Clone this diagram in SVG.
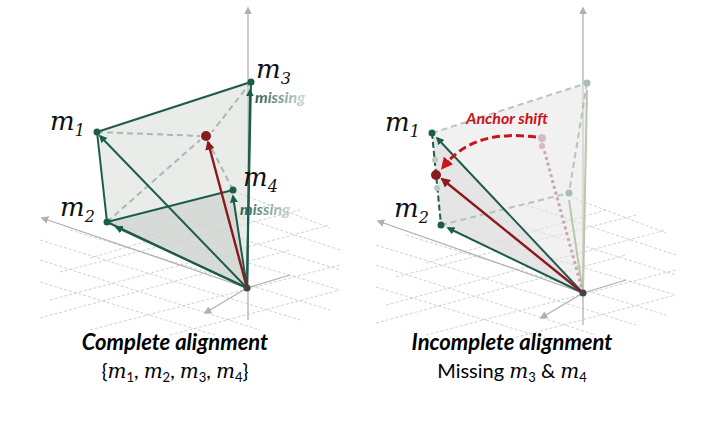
<svg xmlns="http://www.w3.org/2000/svg" width="717" height="433" viewBox="0 0 717 433">
<defs>
<style>
.grid{stroke:#c4c4c4;stroke-width:0.8;stroke-dasharray:3 2;fill:none}
.ax{stroke:#b0b0b0;stroke-width:1.3;fill:none}
.e{stroke:#1d5c4d;stroke-width:2;fill:none}
.dash{stroke:#a8b8b2;stroke-width:2;stroke-dasharray:6 4;fill:none}
.red{stroke:#8b1a1f;stroke-width:2.4;fill:none}
.m{font-family:"DejaVu Serif",serif;font-style:italic;font-size:26px;fill:#111}
.sub{font-size:16px}
.miss{font-family:Lato,"Open Sans",sans-serif;font-weight:bold;font-style:italic;font-size:16px}
.cap{font-family:Lato,"Open Sans",sans-serif;font-weight:bold;font-style:italic;font-size:22px;fill:#000;text-anchor:middle}
.cap2{font-family:Lato,"Open Sans",sans-serif;font-size:20px;fill:#000;text-anchor:middle}
</style>
<marker id="ah" viewBox="0 0 10 10" refX="8" refY="5" markerWidth="4" markerHeight="4" orient="auto"><path d="M0,0L10,5L0,10z" fill="#1d5c4d"/></marker>
<marker id="ar" viewBox="0 0 10 10" refX="8" refY="5" markerWidth="4" markerHeight="4" orient="auto"><path d="M0,0L10,5L0,10z" fill="#8b1a1f"/></marker>
<marker id="aa" viewBox="0 0 10 10" refX="8" refY="5" markerWidth="6" markerHeight="6" orient="auto"><path d="M0,0L10,5L0,10z" fill="#b0b0b0"/></marker>
<marker id="ab" viewBox="0 0 10 10" refX="6" refY="5" markerWidth="4" markerHeight="4" orient="auto"><path d="M0,0L10,5L0,10z" fill="#c8141c"/></marker>
<linearGradient id="fade" x1="0" x2="1"><stop offset="0" stop-color="#1d5c4d"/><stop offset="1" stop-color="#1d5c4d" stop-opacity="0.2"/></linearGradient>
</defs>

<g id="left-grid">
<path class="grid" d="M40,240 L300,320 M40,260 L260,330 M40,282 L215,335 M70,230 L330,310 M110,222 L340,290 M150,210 L340,270 M190,200 L340,250 M230,190 L330,228 M50,300 L330,225 M40,318 L290,250 M90,330 L340,265 M170,335 L340,290 M60,272 L300,210 M90,258 L270,205"/>
<path class="ax" d="M248,320 L248,8" marker-end="url(#aa)"/>
<path class="ax" d="M247,288 L42,218" marker-end="url(#aa)"/>
<path class="ax" d="M247,288 L205,313" marker-end="url(#aa)"/>
<path class="ax" d="M247,288 L290,275"/>
</g>
<g id="left-faces">
<polygon points="97,132 251,82 247,288 107,222" fill="#d8ddd9" fill-opacity="0.55"/>
<polygon points="107,222 233,190 247,288" fill="#c9d0cb" fill-opacity="0.6"/>
</g>
<g id="left-connectors">
<path class="dash" d="M97,132 L200,136 M107,222 L200,140 M251,82 L212,132 M233,190 L210,145"/>
<path class="e" d="M97,132 L251,82 L247,288 M97,132 L107,222 L233,190 M107,222 L247,288"/>
<path class="e" d="M247,288 L100,136" marker-end="url(#ah)"/>
<path class="e" d="M247,288 L116,227" marker-end="url(#ah)"/>
<path class="e" d="M247,288 L250,90" marker-end="url(#ah)"/>
<path class="e" d="M247,288 L233,196" marker-end="url(#ah)"/>
<path class="red" d="M247,288 L208,142" marker-end="url(#ar)"/>
</g>
<g id="left-nodes" fill="#1d5c4d">
<circle cx="97" cy="132" r="3.5"/><circle cx="107" cy="222" r="3.5"/><circle cx="251" cy="82" r="3.5"/><circle cx="233" cy="190" r="3.5"/>
<circle cx="247" cy="288" r="3.5" fill="#444"/>
<circle cx="206" cy="136" r="5" fill="#8b1a1f"/>
</g>
<g id="left-labels">
<text class="m" x="50" y="130">m<tspan class="sub" dy="6">1</tspan></text>
<text class="m" x="60" y="216">m<tspan class="sub" dy="6">2</tspan></text>
<text class="m" x="256" y="78">m<tspan class="sub" dy="6">3</tspan></text>
<text class="m" x="243" y="186">m<tspan class="sub" dy="6">4</tspan></text>
<text class="miss" x="255" y="103" fill="url(#fade)">missing</text>
<text class="miss" x="240" y="215" fill="url(#fade)">missing</text>
<text class="cap" x="175" y="350">Complete alignment</text>
<text class="cap2" x="175" y="378">{<tspan font-family="DejaVu Serif" font-style="italic">m</tspan><tspan font-size="13" dy="4">1</tspan><tspan dy="-4">, </tspan><tspan font-family="DejaVu Serif" font-style="italic">m</tspan><tspan font-size="13" dy="4">2</tspan><tspan dy="-4">, </tspan><tspan font-family="DejaVu Serif" font-style="italic">m</tspan><tspan font-size="13" dy="4">3</tspan><tspan dy="-4">, </tspan><tspan font-family="DejaVu Serif" font-style="italic">m</tspan><tspan font-size="13" dy="4">4</tspan><tspan dy="-4">}</tspan></text>
</g>

<g id="right-grid">
<path class="grid" d="M376,245 L636,325 M376,265 L596,335 M376,287 L551,340 M406,235 L666,315 M446,227 L676,295 M486,215 L676,275 M526,205 L676,255 M566,195 L666,233 M386,305 L666,230 M376,323 L626,255 M426,335 L676,270 M506,340 L676,295 M396,277 L636,215 M426,263 L606,210"/>
<path class="ax" d="M583,325 L583,8" marker-end="url(#aa)"/>
<path class="ax" d="M583,293 L378,221" marker-end="url(#aa)"/>
<path class="ax" d="M583,293 L541,318" marker-end="url(#aa)"/>
<path class="ax" d="M583,293 L626,280"/>
</g>
<g id="right-faces">
<polygon points="432,133 587,83 583,293 441,225" fill="#e6e6e6" fill-opacity="0.55"/>
<polygon points="432,133 441,225 583,293" fill="#dcdedc" fill-opacity="0.6"/>
</g>
<g id="right-connectors">
<path class="dash" d="M432,133 L587,83 M441,225 L569,193 M587,83 L569,193" opacity="0.8"/>
<path d="M583,293 L587,90 M583,293 L569,200" stroke="#b8c8a8" stroke-width="2" fill="none"/>
<path d="M583,293 L542,142" stroke="#c8a8ac" stroke-width="3" stroke-dasharray="3 3" fill="none"/>
<path class="e" d="M432,133 L441,225" stroke-dasharray="6 3"/>
<path class="e" d="M583,293 L437,138" marker-end="url(#ah)"/>
<path class="e" d="M583,293 L448,228" marker-end="url(#ah)"/>
<path class="red" d="M583,293 L442,179" marker-end="url(#ar)"/>
<path d="M536,137 C495,132 465,140 444,166" stroke="#c8141c" stroke-width="3" stroke-dasharray="8 4" fill="none" marker-end="url(#ab)"/>
</g>
<g id="right-nodes">
<circle cx="432" cy="133" r="3.5" fill="#1d5c4d"/><circle cx="441" cy="225" r="3.5" fill="#1d5c4d"/>
<circle cx="587" cy="83" r="3.5" fill="#a8bcb4"/><circle cx="569" cy="193" r="3.5" fill="#a8bcb4"/>
<circle cx="435" cy="160" r="3" fill="#b8c8c0"/><circle cx="437" cy="188" r="3" fill="#b8c8c0"/>
<circle cx="542" cy="138" r="4" fill="#d8b8bc"/><circle cx="542" cy="146" r="3" fill="#d8b8bc"/>
<circle cx="583" cy="293" r="3.5" fill="#444"/>
<circle cx="436" cy="175" r="5" fill="#8b1a1f"/>
</g>
<g id="right-labels">
<text class="m" x="385" y="131">m<tspan class="sub" dy="6">1</tspan></text>
<text class="m" x="394" y="217">m<tspan class="sub" dy="6">2</tspan></text>
<text class="miss" x="466" y="124" fill="#c8141c" font-size="18">Anchor shift</text>
<text class="cap" x="512" y="350">Incomplete alignment</text>
<text class="cap2" x="512" y="378">Missing <tspan font-family="DejaVu Serif" font-style="italic">m</tspan><tspan font-size="13" dy="4">3</tspan><tspan dy="-4"> &amp; </tspan><tspan font-family="DejaVu Serif" font-style="italic">m</tspan><tspan font-size="13" dy="4">4</tspan></text>
</g>
</svg>
